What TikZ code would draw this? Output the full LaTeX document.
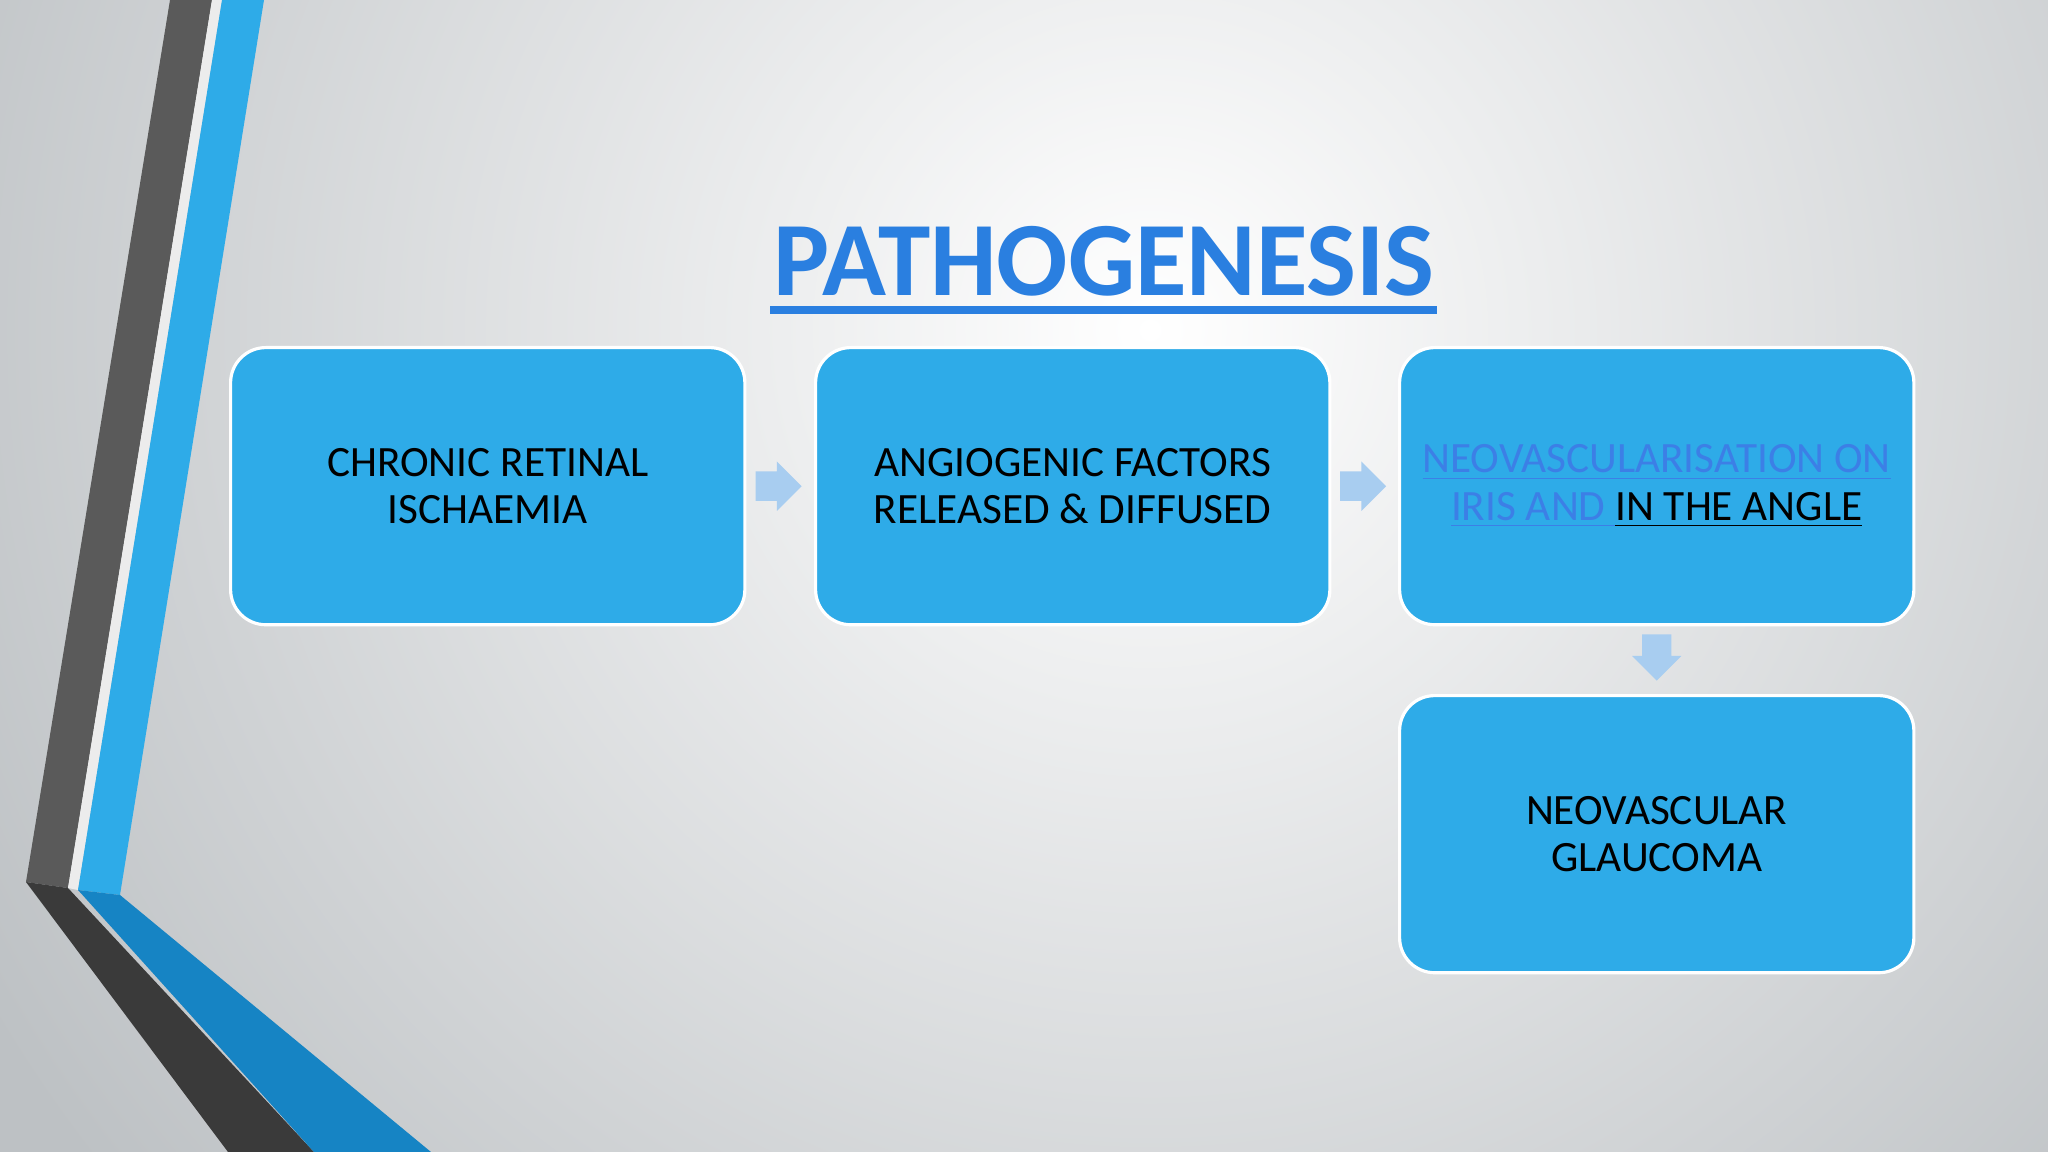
\documentclass[tikz,border=0pt]{standalone}
\usepackage{fontspec}
\setmainfont{Carlito}
\usetikzlibrary{shapes.arrows,calc}
\definecolor{boxblue}{HTML}{2EABE8}
\definecolor{titleblue}{HTML}{2A7FE0}
\definecolor{linkblue}{HTML}{3C7FE6}
\definecolor{arrowblue}{HTML}{A8CDF0}
\definecolor{stripegray}{HTML}{5A5A5A}
\definecolor{stripedark}{HTML}{3A3A3A}
\definecolor{stripeblue}{HTML}{2EABE8}
\definecolor{stripedeep}{HTML}{1684C4}
\definecolor{bgedge}{HTML}{BDC1C4}
\tikzset{
  stepbox/.style={draw=white, line width=0.9pt, fill=boxblue, rounded corners=10pt, minimum width=5.14cm, minimum height=2.77cm, align=center, font=\fontsize{12.3pt}{13.4pt}\selectfont, text=black, anchor=north west},
  blockarrow/.style={single arrow, fill=arrowblue, draw=none, inner sep=0.14cm, single arrow head extend=0.1cm, single arrow head indent=0pt, minimum height=0.46cm, text width=0pt}
}
\begin{document}
\begin{tikzpicture}[x=0.01cm,y=-0.01cm]
\useasboundingbox (0,0) rectangle (2048,1152);
\begin{scope}
\clip (0,0) rectangle (2048,1152);
\fill[bgedge] (0,0) rectangle (2048,1152);
\shade[inner color=white, outer color=bgedge] (1150,330) circle (1350);
% left decoration
\fill[stripegray] (170,0) -- (212,0) -- (68,888) -- (26,882) -- cycle;
\fill[stripedark] (26,882) -- (68,888) -- (314,1152) -- (228,1152) -- cycle;
\fill[white!85!gray] (212,0) -- (222,0) -- (78,890) -- (68,888) -- cycle;
\fill[stripeblue] (222,0) -- (264,0) -- (120,895) -- (78,890) -- cycle;
\fill[stripedeep] (78,890) -- (120,895) -- (431,1152) -- (314,1152) -- cycle;
\end{scope}
% title
\node[font=\fontsize{30pt}{34pt}\selectfont\bfseries, text=titleblue, inner sep=0pt] (title) at (1104,261) {PATHOGENESIS};
\draw[titleblue, line width=2.5pt] (770,310) -- (1437,310);
% boxes
\node[stepbox] (b1) at (229,346) {CHRONIC RETINAL\\ISCHAEMIA};
\node[stepbox] (b2) at (814,346) {ANGIOGENIC FACTORS\\RELEASED \& DIFFUSED};
\node[stepbox] (b3) at (1398,346) {\textcolor{linkblue}{\underline{NEOVASCULARISATION ON}}\\\textcolor{linkblue}{\underline{IRIS AND\ }}\underline{IN THE ANGLE}};
\node[stepbox] (b4) at (1398,694) {NEOVASCULAR\\GLAUCOMA};
% arrows
\node[blockarrow, xshift=-0.09cm] (a1) at ($(b1.east)!0.5!(b2.west)$) {};
\node[blockarrow, xshift=-0.09cm] (a2) at ($(b2.east)!0.5!(b3.west)$) {};
\node[blockarrow, shape border rotate=270, yshift=0.1cm] (a3) at ($(b3.south)!0.5!(b4.north)$) {};
\end{tikzpicture}
\end{document}
